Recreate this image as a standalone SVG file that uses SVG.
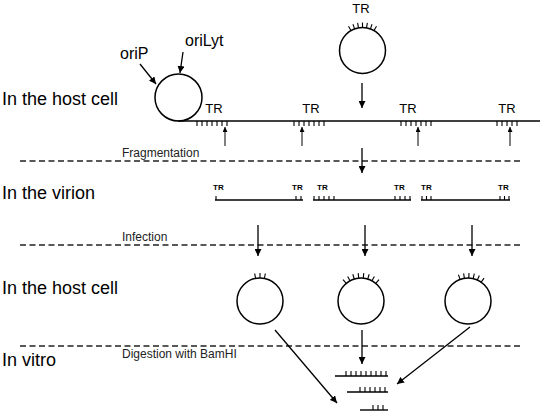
<svg xmlns="http://www.w3.org/2000/svg" width="542" height="412" viewBox="0 0 542 412">
<defs>
<marker id="ah" viewBox="0 0 10 10" refX="10" refY="5" markerWidth="7" markerHeight="7" markerUnits="userSpaceOnUse" orient="auto"><path d="M0,0 L10,5 L0,10 z" fill="#000"/></marker>
<marker id="ahs" viewBox="0 0 10 10" refX="10" refY="5" markerWidth="6" markerHeight="5" markerUnits="userSpaceOnUse" orient="auto"><path d="M0,0 L10,5 L0,10 z" fill="#000"/></marker>
</defs>
<style>
.lbl{font-family:"Liberation Sans",Arial,sans-serif;font-size:18px;fill:#000}
.sm{font-family:"Liberation Sans",Arial,sans-serif;font-size:12px;fill:#222}
.tr{font-family:"Liberation Sans",Arial,sans-serif;font-size:13px;fill:#000;text-anchor:middle}
.trb{font-family:"Liberation Sans",Arial,sans-serif;font-size:8px;font-weight:bold;fill:#000}
.ori{font-family:"Liberation Sans",Arial,sans-serif;font-size:16px;fill:#000}
.c{fill:none;stroke:#000;stroke-width:1.5}
.ln{fill:none;stroke:#000;stroke-width:1.4}
.tk{fill:none;stroke:#000;stroke-width:1.1}
.dash{fill:none;stroke:#222;stroke-width:1.3;stroke-dasharray:6 3.5}
.ar{fill:none;stroke:#000;stroke-width:1.3;marker-end:url(#ah)}
.ars{fill:none;stroke:#000;stroke-width:1;marker-end:url(#ahs)}
</style>

<g id="row-labels">
<text class="lbl" x="2" y="105">In the host cell</text>
<text class="lbl" x="2" y="199">In the virion</text>
<text class="lbl" x="2" y="294">In the host cell</text>
<text class="lbl" x="2" y="366">In vitro</text>
</g>

<g id="separators">
<line class="dash" x1="20" y1="161" x2="522" y2="161"/>
<text class="sm" x="122" y="157">Fragmentation</text>
<line class="dash" x1="20" y1="245" x2="522" y2="245"/>
<text class="sm" x="122" y="241">Infection</text>
<line class="dash" x1="20" y1="346" x2="522" y2="346"/>
<text class="sm" x="122" y="358">Digestion with BamHI</text>
</g>

<g id="genome">
<circle class="c" cx="178.5" cy="97.5" r="23.5"/>
<line class="ln" x1="178" y1="121" x2="540" y2="121"/>
<text class="ori" x="120" y="59">oriP</text>
<text class="ori" x="185" y="46">oriLyt</text>
<path class="tk" d="M197,121v5M202,121v5M207,121v5M212,121v5M217,121v5M222,121v5M227,121v5"/>
<path class="tk" d="M294,121v5M299,121v5M304,121v5M309,121v5M314,121v5M319,121v5M324,121v5"/>
<path class="tk" d="M401,121v5M406,121v5M411,121v5M416,121v5M421,121v5M426,121v5M431,121v5"/>
<path class="tk" d="M497,121v5M502,121v5M507,121v5M512,121v5M517,121v5"/>
<text class="tr" x="214" y="113">TR</text>
<text class="tr" x="311" y="113">TR</text>
<text class="tr" x="408" y="113">TR</text>
<text class="tr" x="507" y="113">TR</text>
</g>

<g id="circular-tr">
<circle class="c" cx="362.5" cy="50.5" r="23"/>
<g transform="translate(362.5,50.5)">
<path class="tk" d="M0,-23v-5" transform="rotate(-30)"/>
<path class="tk" d="M0,-23v-5" transform="rotate(-20)"/>
<path class="tk" d="M0,-23v-5" transform="rotate(-10)"/>
<path class="tk" d="M0,-23v-5"/>
<path class="tk" d="M0,-23v-5" transform="rotate(10)"/>
<path class="tk" d="M0,-23v-5" transform="rotate(20)"/>
<path class="tk" d="M0,-23v-5" transform="rotate(30)"/>
</g>
<text class="tr" x="361" y="13">TR</text>
</g>

<g id="fragment-1">
<line class="ln" x1="215" y1="200" x2="303" y2="200"/>
<path class="tk" d="M216,200v-4M296,200v-4M301,200v-4"/>
<text class="trb" x="213" y="190">TR</text>
<text class="trb" x="292" y="190">TR</text>
</g>
<g id="fragment-2">
<line class="ln" x1="313" y1="200" x2="411" y2="200"/>
<path class="tk" d="M314,200v-4M319,200v-4M324,200v-4M329,200v-4M334,200v-4M395,200v-4M400,200v-4M405,200v-4M410,200v-4"/>
<text class="trb" x="317" y="190">TR</text>
<text class="trb" x="394" y="190">TR</text>
</g>
<g id="fragment-3">
<line class="ln" x1="421" y1="200" x2="510" y2="200"/>
<path class="tk" d="M422,200v-4M426.5,200v-4M431,200v-4M500,200v-4M504.5,200v-4M509,200v-4"/>
<text class="trb" x="421" y="190">TR</text>
<text class="trb" x="498" y="190">TR</text>
</g>

<g id="episome-1">
<circle class="c" cx="260" cy="301" r="23"/>
<g transform="translate(260,301)">
<path class="tk" d="M0,-23v-5" transform="rotate(-11)"/>
<path class="tk" d="M0,-23v-5"/>
<path class="tk" d="M0,-23v-5" transform="rotate(11)"/>
</g>
</g>
<g id="episome-2">
<circle class="c" cx="361" cy="301" r="23"/>
<g transform="translate(361,301)">
<path class="tk" d="M0,-23v-5" transform="rotate(-40)"/>
<path class="tk" d="M0,-23v-5" transform="rotate(-28.5)"/>
<path class="tk" d="M0,-23v-5" transform="rotate(-17)"/>
<path class="tk" d="M0,-23v-5" transform="rotate(-5.7)"/>
<path class="tk" d="M0,-23v-5" transform="rotate(5.7)"/>
<path class="tk" d="M0,-23v-5" transform="rotate(17)"/>
<path class="tk" d="M0,-23v-5" transform="rotate(28.5)"/>
<path class="tk" d="M0,-23v-5" transform="rotate(40)"/>
</g>
</g>
<g id="episome-3">
<circle class="c" cx="468" cy="301" r="23"/>
<g transform="translate(468,301)">
<path class="tk" d="M0,-23v-5" transform="rotate(-20)"/>
<path class="tk" d="M0,-23v-5" transform="rotate(-9)"/>
<path class="tk" d="M0,-23v-5" transform="rotate(2)"/>
<path class="tk" d="M0,-23v-5" transform="rotate(13)"/>
<path class="tk" d="M0,-23v-5" transform="rotate(24)"/>
<path class="tk" d="M0,-23v-5" transform="rotate(35)"/>
</g>
</g>

<g id="bands">
<line class="ln" x1="335" y1="376" x2="388" y2="376"/>
<path class="tk" d="M346,376v-5M351,376v-5M356,376v-5M361,376v-5M366,376v-5M371,376v-5M376,376v-5M381,376v-5M386,376v-5"/>
<line class="ln" x1="347" y1="392" x2="388" y2="392"/>
<path class="tk" d="M360,392v-5M365,392v-5M370,392v-5M375,392v-5M380,392v-5M385,392v-5"/>
<line class="ln" x1="360" y1="410" x2="388" y2="410"/>
<path class="tk" d="M373,410v-5M378,410v-5M383,410v-5"/>
</g>

<g id="connectors">
<line class="ar" x1="140" y1="64" x2="156" y2="84"/>
<line class="ar" x1="183" y1="52" x2="180" y2="73"/>
<line class="ar" x1="362" y1="83" x2="362" y2="108"/>
<line class="ars" x1="225" y1="146" x2="225" y2="127"/>
<line class="ars" x1="302" y1="146" x2="302" y2="127"/>
<line class="ars" x1="418" y1="146" x2="418" y2="127"/>
<line class="ars" x1="510" y1="146" x2="510" y2="127"/>
<line class="ar" x1="362" y1="148" x2="362" y2="173"/>
<line class="ar" x1="258" y1="225" x2="258" y2="256"/>
<line class="ar" x1="365" y1="225" x2="365" y2="256"/>
<line class="ar" x1="472" y1="225" x2="472" y2="256"/>
<line class="ar" x1="362" y1="330" x2="362" y2="364"/>
<line class="ar" x1="275" y1="330" x2="337" y2="403"/>
<line class="ar" x1="470" y1="327" x2="397" y2="384"/>
</g>
</svg>
